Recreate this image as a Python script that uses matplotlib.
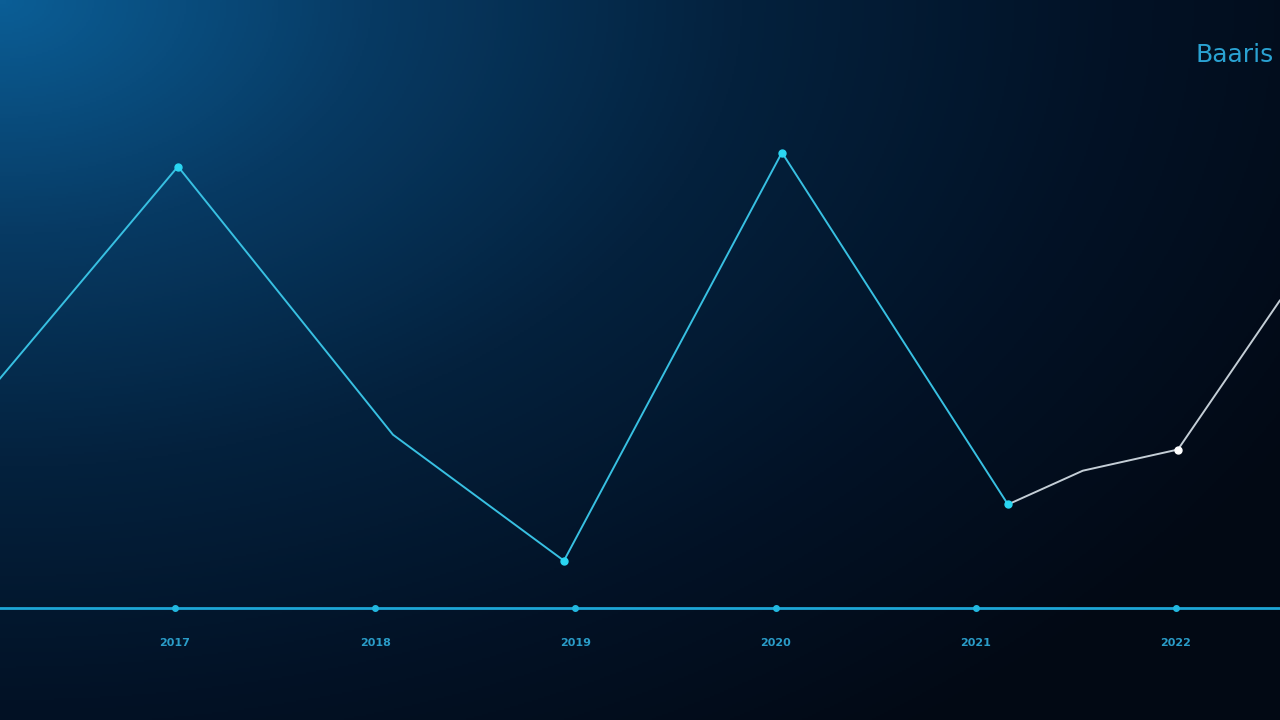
import numpy as np
import matplotlib
matplotlib.use('Agg')
import matplotlib.pyplot as plt
from matplotlib.colors import LinearSegmentedColormap

plt.rcParams['font.family'] = 'DejaVu Sans'

# main cyan series
x_main = [0.126, 1.015, 2.089, 2.943, 4.032, 5.161]
y_main = [50.9, 98.0, 38.4, 10.4, 101.1, 22.9]
# light tail of the series
x_tail = [5.161, 5.535, 6.010, 6.519]
y_tail = [22.9, 30.4, 35.1, 68.2]
# marked points
x_dots = [1.015, 2.943, 4.032, 5.161]
y_dots = [98.0, 10.4, 101.1, 22.9]
x_last, y_last = 6.010, 35.1

tick_pos = [1, 2, 3, 4, 5, 6]
tick_labels = ['2017', '2018', '2019', '2020', '2021', '2022']
title = 'Baaris'

xlim = (0.126, 6.52)
ylim = (-25, 135)

fig = plt.figure(figsize=(12.8, 7.2), dpi=100)
ax = fig.add_axes([0, 0, 1, 1])

# background: glow from top-left fading to dark navy
h, w = 360, 640
yy, xx = np.mgrid[0:h, 0:w]
d = np.sqrt((xx / w * 0.95) ** 2 + (yy / h * 0.85) ** 2)
d = np.clip(d / 1.1, 0, 1)
cmap = LinearSegmentedColormap.from_list(
    'bg', [(0, '#0b5e96'), (0.25, '#073a63'), (0.5, '#04213d'), (0.75, '#021226'), (1, '#020914')])
ax.imshow(d, cmap=cmap, extent=(xlim[0], xlim[1], ylim[0], ylim[1]),
          aspect='auto', origin='upper', zorder=0)

cyan = '#38c0e2'
ax.plot(x_main, y_main, color=cyan, lw=1.4, zorder=3)
ax.plot(x_tail, y_tail, color='#c4ced6', lw=1.4, zorder=3)
ax.plot(x_dots, y_dots, 'o', color='#2ad6f2', ms=5, zorder=4)
ax.plot([x_last], [y_last], 'o', color='white', ms=5, zorder=4)

# baseline axis with dots
ax.axhline(0, color='#1ea6d6', lw=2, zorder=2)
ax.plot(tick_pos, [0] * len(tick_pos), 'o', color='#22b8e0', ms=4, zorder=3)
for p, lab in zip(tick_pos, tick_labels):
    ax.text(p, -7.8, lab, color='#2a9cc8', fontsize=8, ha='center', va='center',
            fontweight='bold', zorder=3)

fig.text(1274 / 1280, 1 - 55 / 720, title, color='#2aa2d2', fontsize=18,
         ha='right', va='center')

ax.set_xlim(*xlim)
ax.set_ylim(*ylim)
ax.axis('off')

fig.savefig('out.png', dpi=100)
